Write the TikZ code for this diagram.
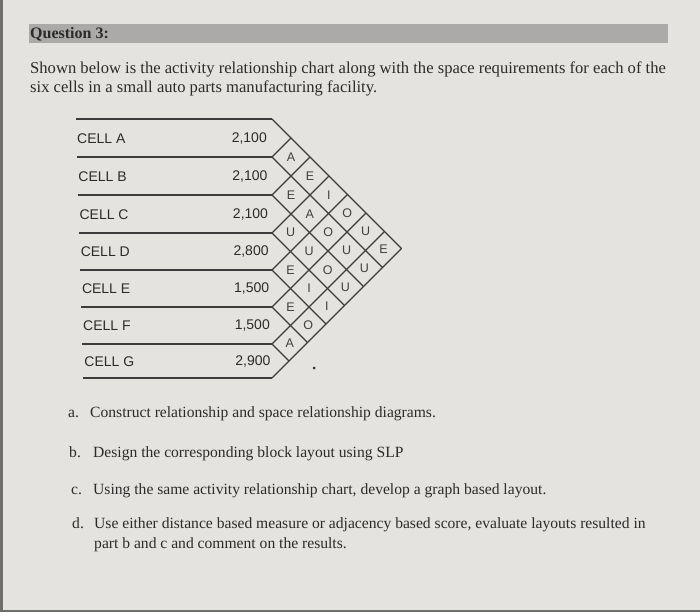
\documentclass[tikz,border=0pt]{standalone}
\usepackage{fontspec}
\setmainfont{Liberation Serif}
\newfontfamily\tabfont{Liberation Sans}
\definecolor{bgc}{HTML}{E4E3DF}
\definecolor{barc}{HTML}{ABAAA8}
\definecolor{framec}{HTML}{6E6E6C}
\definecolor{inkc}{HTML}{2B2B2B}
\definecolor{linec}{HTML}{3C3C3C}
\begin{document}
\begin{tikzpicture}[x=1pt,y=-1pt,
  bodytext/.style={anchor=base west,inner sep=0pt,text=inkc,font=\fontsize{16.6}{18}\selectfont},
  itemtext/.style={anchor=base west,inner sep=0pt,text=inkc,font=\fontsize{15.6}{18}\selectfont},
  celltext/.style={anchor=west,inner sep=0pt,text=inkc,font=\tabfont\fontsize{14}{16}\selectfont},
  numtext/.style={anchor=east,inner sep=0pt,text=inkc,font=\tabfont\fontsize{14}{16}\selectfont},
  reltext/.style={inner sep=0pt,text=inkc!90,font=\tabfont\fontsize{12.5}{14}\selectfont},
  rowline/.style={draw=linec,line width=1.3pt},
  gridline/.style={draw=linec,line width=1.2pt,line cap=round}]
\useasboundingbox (0,0) rectangle (700,612);
\fill[bgc] (0,0) rectangle (700,612);
\fill[framec] (0,0) rectangle (2.5,612);
\fill[framec] (0,609.5) rectangle (700,612);
% header bar
\fill[barc] (29,24) rectangle (668,43.5);
\node[anchor=base west,inner sep=0pt,text=inkc,font=\fontsize{16}{18}\selectfont\bfseries] (q) at (30,39) {Question 3:};
\node[bodytext] (p1) at (30,74) {Shown below is the activity relationship chart along with the space requirements for each of the};
\node[bodytext] (p2) at (30,93) {six cells in a small auto parts manufacturing facility.};
% chart
\def\xo{272}
\def\yb{{119,157,195,233,270,307,344,378}}
\foreach \k in {0,...,7}{
  \pgfmathsetmacro{\yy}{\yb[\k]}
  \pgfmathsetmacro{\xl}{76+\k}
  \draw[rowline] (\xl,\yy) -- (\xo,\yy);
}
% diagonal grid
\foreach \a in {0,...,6}{
  \pgfmathsetmacro{\ya}{\yb[\a]}
  \pgfmathsetmacro{\ye}{\yb[7]}
  \draw[gridline] (\xo,\ya) -- ({\xo+(\ye-\ya)/2},{(\ya+\ye)/2});
}
\foreach \b in {1,...,7}{
  \pgfmathsetmacro{\yB}{\yb[\b]}
  \pgfmathsetmacro{\ys}{\yb[0]}
  \draw[gridline] (\xo,\yB) -- ({\xo+(\yB-\ys)/2},{(\ys+\yB)/2});
}
% row labels
\foreach \k/\c/\v in {0/A/{2,100},1/B/{2,100},2/C/{2,100},3/D/{2,800},4/E/{1,500},5/F/{1,500},6/G/{2,900}}{
  \pgfmathsetmacro{\yt}{\yb[\k]}
  \pgfmathsetmacro{\yn}{\yb[\k+1]}
  \pgfmathsetmacro{\ym}{(\yt+\yn)/2+0.5}
  \node[celltext] (cell\c) at ({77+1.2*\k},\ym) {CELL \c};
  \node[numtext] (num\c) at ({267+0.6*\k},\ym) {\v};
}
% relationship letters
\foreach \i/\j/\r in {0/1/A,1/2/E,2/3/U,3/4/E,4/5/E,5/6/A,
  0/2/E,1/3/A,2/4/U,3/5/I,4/6/O,
  0/3/I,1/4/O,2/5/O,3/6/I,
  0/4/O,1/5/U,2/6/U,
  0/5/U,1/6/U,
  0/6/E}{
  \pgfmathsetmacro{\yia}{\yb[\i]}
  \pgfmathsetmacro{\yib}{\yb[\i+1]}
  \pgfmathsetmacro{\yja}{\yb[\j]}
  \pgfmathsetmacro{\yjb}{\yb[\j+1]}
  \pgfmathsetmacro{\mi}{(\yia+\yib)/2}
  \pgfmathsetmacro{\mj}{(\yja+\yjb)/2}
  \node[reltext] (r\i\j) at ({\xo+(\mj-\mi)/2},{(\mi+\mj)/2}) {\r};
}
\fill[inkc] (314,368) circle (1.5);
% questions
\node[itemtext] (la) at (68,417) {a.};
\node[itemtext] (ta) at (90,417) {Construct relationship and space relationship diagrams.};
\node[itemtext] (lb) at (69,457) {b.};
\node[itemtext] (tb) at (93,457) {Design the corresponding block layout using SLP};
\node[itemtext] (lc) at (71,494) {c.};
\node[itemtext] (tc) at (93,494) {Using the same activity relationship chart, develop a graph based layout.};
\node[itemtext] (ld) at (72,528) {d.};
\node[itemtext] (td) at (94,528) {Use either distance based measure or adjacency based score, evaluate layouts resulted in};
\node[itemtext] (td2) at (94,548) {part b and c and comment on the results.};
\end{tikzpicture}
\end{document}
